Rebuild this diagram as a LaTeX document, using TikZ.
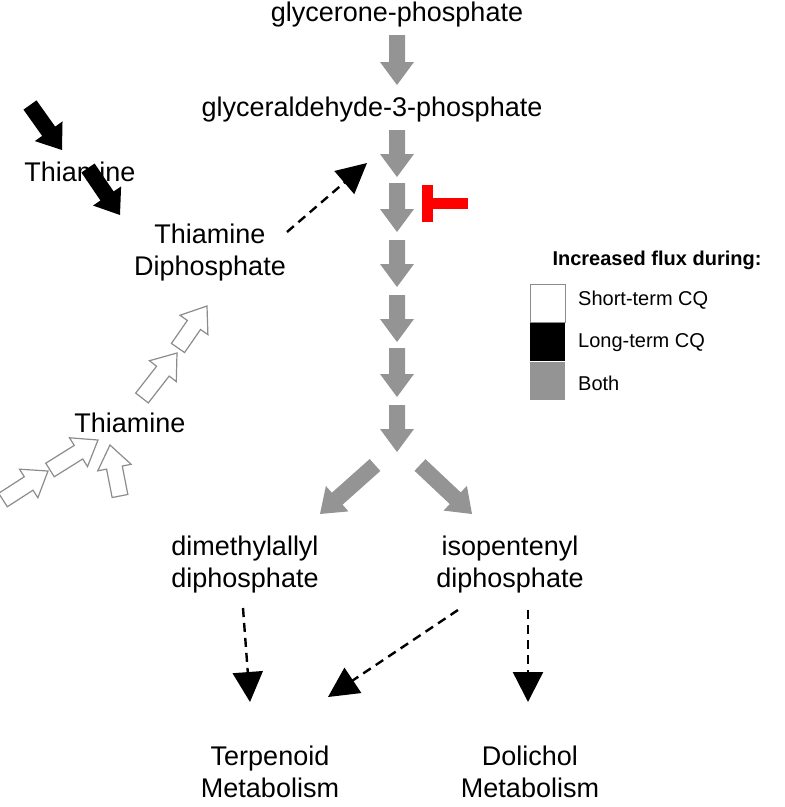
\documentclass[tikz,border=0pt]{standalone}
\usepackage{fontspec}
\setmainfont{Liberation Sans}
\usetikzlibrary{arrows.meta,calc}
\tikzset{
  lbl/.style={font=\fontsize{27}{32}\selectfont, inner sep=0pt, align=center},
  grayA/.style={fill=black!42, draw=none},
  blackA/.style={fill=black, draw=none},
  hollowA/.style={fill=white, draw=black!45, line width=1.2pt},
  dasharrow/.style={dashed, dash pattern=on 9pt off 6pt, line width=2.4pt, -{Triangle[length=30pt,width=30pt]}},
  legbox/.style={minimum width=35pt, minimum height=38pt, inner sep=0pt},
}
% \blk{style}{x1,y1}{x2,y2}: block arrow from tail to tip
\newcommand{\blk}[3]{%
  \path let \p1=(#2), \p2=(#3), \n1={atan2(\y2-\y1,\x2-\x1)}, \n2={veclen(\x2-\x1,\y2-\y1)} in
   [shift={(\p1)}, rotate=\n1]
   [#1] (0pt,-8pt) -- (\n2-23pt,-8pt) -- (\n2-23pt,-17pt) -- (\n2,0pt) -- (\n2-23pt,17pt) -- (\n2-23pt,8pt) -- (0pt,8pt) -- cycle;}
\begin{document}
\begin{tikzpicture}[x=1pt,y=-1pt]
\useasboundingbox (0,0) rectangle (785,807);
\node[lbl] (gp) at (397,15) {glycerone-phosphate};
\node[lbl] (g3p) at (372,110) {glyceraldehyde-3-phosphate};
\node[lbl] (th1) at (80,172) {Thiamine};
\node[lbl] (tdp) at (210,253) {Thiamine\\Diphosphate};
\node[lbl] (th2) at (130,423) {Thiamine};
\node[lbl] (dma) at (245,565) {dimethylallyl\\diphosphate};
\node[lbl] (ipp) at (510,565) {isopentenyl\\diphosphate};
\node[lbl] (terp) at (270,772) {Terpenoid\\Metabolism};
\node[lbl] (dol) at (530,772) {Dolichol\\Metabolism};
% gray pathway arrows
\blk{grayA}{397,35}{397,85}
\blk{grayA}{397,130}{397,177}
\blk{grayA}{397,183}{397,232}
\blk{grayA}{397,240}{397,287}
\blk{grayA}{397,295}{397,342}
\blk{grayA}{397,348}{397,397}
\blk{grayA}{397,405}{397,452}
\blk{grayA}{375,465}{320,514}
\blk{grayA}{420,465}{472,514}
% black arrows
\blk{blackA}{30,105}{62,150}
\blk{blackA}{88,168}{120,215}
% hollow arrows
\blk{hollowA}{142,398}{177,353}
\blk{hollowA}{178,348}{207,306}
\blk{hollowA}{3,500}{48,471}
\blk{hollowA}{50,470}{98,440}
\blk{hollowA}{120,496}{110,445}
% inhibitor
\fill[red] (422,185) rectangle (433,222);
\fill[red] (433,198) rectangle (468,209);
% dashed
\coordinate (tdpR) at (287,232);
\coordinate (g3pIn) at (367,163);
\draw[dasharrow] (tdpR) -- (g3pIn);
\coordinate (d1) at (243,608); \coordinate (d2) at (250,702);
\coordinate (i1) at (458,610); \coordinate (i2) at (328,697);
\coordinate (i3) at (528,610); \coordinate (i4) at (528,702);
\draw[dasharrow] (d1) -- (d2);
\draw[dasharrow] (i1) -- (i2);
\draw[dasharrow] (i3) -- (i4);
% legend
\node[font=\bfseries\fontsize{20}{24}\selectfont, inner sep=0pt] (lt) at (657,260) {Increased flux during:};
\node[legbox, draw=black!45, line width=1pt, fill=white] (b1) at (547.5,303) {};
\node[legbox, fill=black] (b2) at (547.5,342) {};
\node[legbox, fill=black!42] (b3) at (547.5,381) {};
\node[font=\fontsize{20}{24}\selectfont, anchor=west, inner sep=0pt] at (578,300) {Short-term CQ};
\node[font=\fontsize{20}{24}\selectfont, anchor=west, inner sep=0pt] at (578,343) {Long-term CQ};
\node[font=\fontsize{20}{24}\selectfont, anchor=west, inner sep=0pt] at (578,383) {Both};
\end{tikzpicture}
\end{document}
